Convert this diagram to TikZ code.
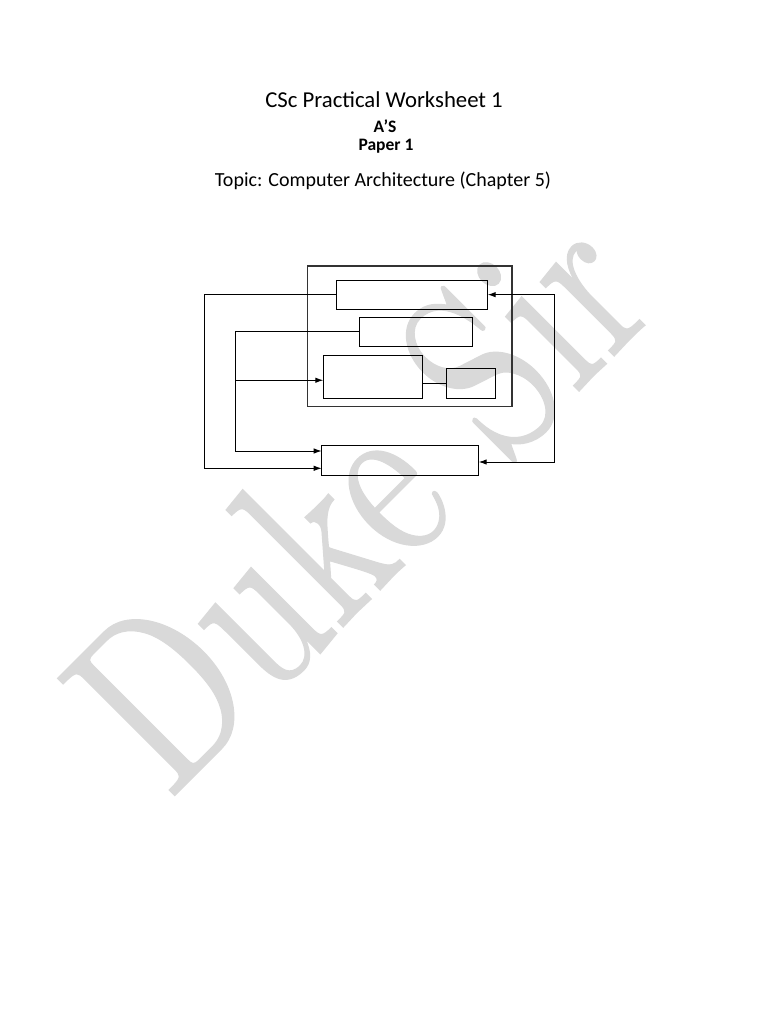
\documentclass[tikz,border=0pt]{standalone}
\usepackage{fontspec}
\newfontfamily\calfont{Carlito}
\newfontfamily\wmfont[FakeBold=0.6]{lmroman10-regular.otf}
\usetikzlibrary{arrows.meta}
\begin{document}
\begin{tikzpicture}[x=1pt,y=-1pt,
  box/.style={draw=black,line width=1pt,inner sep=0pt,outer sep=0pt,fill=none},
  frame/.style={draw=black!80,line width=1.3pt,inner sep=0pt,outer sep=0pt},
  conn/.style={draw=black,line width=1pt},
  arr/.style={-{Latex[length=8pt,width=5.5pt]}},
  title/.style={inner sep=0pt,anchor=base},
]
\fill[white] (0,0) rectangle (768,1024);
\useasboundingbox (0,0) rectangle (768,1024);
% watermark
\node[anchor=base west,rotate=45,xscale=0.75,inner sep=0pt,text=black!15] (wm) at (170,800) {\wmfont\fontsize{242}{242}\selectfont Duke Sir};
% titles
\node[title,font=\calfont\fontsize{22.75}{27}\selectfont] (t1) at (384,107.7) {CSc Practical Worksheet 1};
\node[title,font=\calfont\bfseries\fontsize{17.5}{20}\selectfont] (t2) at (385,133) {A’S};
\node[title,font=\calfont\bfseries\fontsize{17.5}{20}\selectfont] (t3) at (386,151) {Paper 1};
\node[title,font=\calfont\fontsize{20}{24}\selectfont] (t4) at (383,187) {Topic: Computer Architecture (Chapter 5)};
% boxes
\node[frame,minimum width=204.7pt,minimum height=140.7pt] (outer) at (409.7,336.3) {};
\node[box,minimum width=151.7pt,minimum height=29.3pt] (reg) at (411.85,294.65) {};
\node[box,minimum width=113.4pt,minimum height=29pt] (cu) at (416,331.8) {};
\node[box,minimum width=99pt,minimum height=43.3pt] (alu) at (372.8,376.65) {};
\node[box,minimum width=49.7pt,minimum height=30pt] (acc) at (470.85,383.3) {};
\node[box,minimum width=157pt,minimum height=29.7pt] (mem) at (400.2,460.15) {};
% connectors
\draw[conn,arr] (reg.west) -- ++(-131.7,0) |- ([yshift=-8.15pt]mem.west);
\draw[conn,arr] (cu.west) -- ++(-124.3,0) coordinate (j) |- ([yshift=9.15pt]mem.west);
\coordinate (alin) at ([yshift=-3.6pt]alu.west);
\draw[conn,arr] (j |- alin) -- (alin);
\draw[conn] (acc.west) -- (acc.west -| alu.east);
\draw[conn,{Latex[length=8pt,width=5.5pt]}-{Latex[length=8pt,width=5.5pt]}] ([yshift=-1.85pt]mem.east) -- ++(75.3,0) |- (reg.east);
\end{tikzpicture}
\end{document}
